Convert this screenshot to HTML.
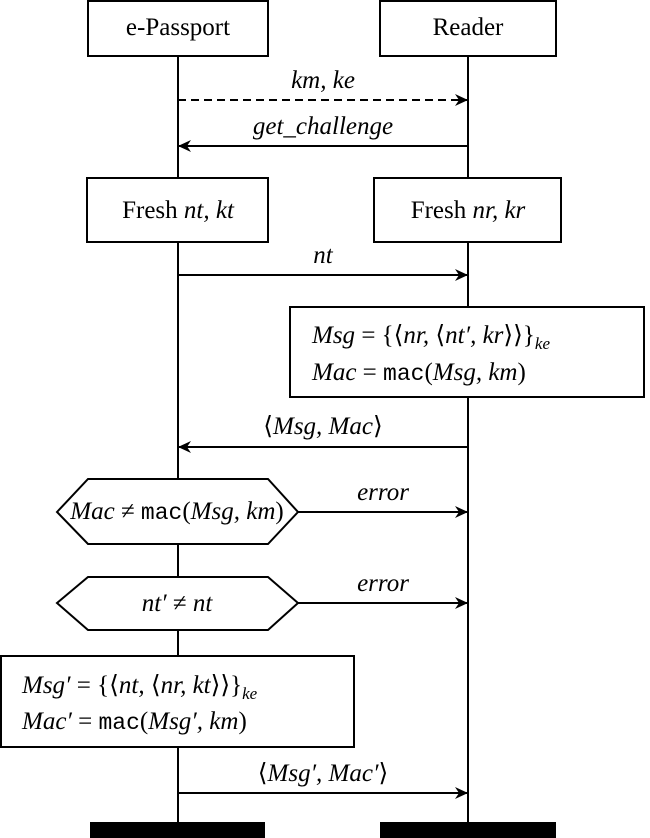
<!DOCTYPE html>
<html><head><style>
body{margin:0;background:#fff;}
svg{display:block;}
text{font-family:"Liberation Serif",serif;font-size:25px;fill:#000;}
.i{font-style:italic;}
.m{font-family:"Liberation Mono",monospace;font-style:normal;font-size:23px;}
</style></head><body>
<svg width="650" height="838" viewBox="0 0 650 838" xmlns="http://www.w3.org/2000/svg">
<defs><marker id="a" markerWidth="14" markerHeight="12" refX="13" refY="6" orient="auto" markerUnits="userSpaceOnUse"><path d="M0,0 L13,6 L0,12 L4,6 Z" fill="#000"/></marker></defs>
<g stroke="#000" stroke-width="2" fill="none">
<line x1="178" y1="56" x2="178" y2="822"/>
<line x1="468" y1="56" x2="468" y2="822"/>
</g>
<g stroke="#000" stroke-width="2" fill="#fff">
<rect x="88" y="1" width="180" height="55"/>
<rect x="380" y="1" width="176" height="55"/>
<rect x="87" y="178" width="181" height="64"/>
<rect x="374" y="178" width="187" height="64"/>
<rect x="290" y="307" width="354" height="90"/>
<polygon points="57,512 88,479 268,479 298,512 268,544 88,544"/>
<polygon points="57,603 88,577 268,577 298,603 268,630 88,630"/>
<rect x="1" y="656" width="353" height="91"/>
</g>
<g stroke="#000" stroke-width="2" fill="none">
<line x1="178" y1="100" x2="468" y2="100" stroke-dasharray="8,5" marker-end="url(#a)"/>
<line x1="468" y1="146" x2="178" y2="146" marker-end="url(#a)"/>
<line x1="178" y1="275" x2="468" y2="275" marker-end="url(#a)"/>
<line x1="468" y1="447" x2="178" y2="447" marker-end="url(#a)"/>
<line x1="298" y1="512" x2="468" y2="512" marker-end="url(#a)"/>
<line x1="298" y1="603" x2="468" y2="603" marker-end="url(#a)"/>
<line x1="178" y1="793" x2="468" y2="793" marker-end="url(#a)"/>
</g>
<rect x="90" y="822" width="175" height="16" fill="#000"/>
<rect x="380" y="822" width="176" height="16" fill="#000"/>
<text x="178" y="35" text-anchor="middle">e-Passport</text>
<text x="468" y="35" text-anchor="middle">Reader</text>
<text x="323" y="88" text-anchor="middle" class="i">km, ke</text>
<text x="323" y="134" text-anchor="middle" class="i">get_challenge</text>
<text x="178" y="218" text-anchor="middle">Fresh <tspan class="i">nt, kt</tspan></text>
<text x="468" y="218" text-anchor="middle">Fresh <tspan class="i">nr, kr</tspan></text>
<text x="323" y="263" text-anchor="middle" class="i">nt</text>
<text x="312" y="343" class="i" font-size="26">Msg <tspan font-style="normal">= {⟨</tspan>nr, <tspan font-style="normal">⟨</tspan>nt′, kr<tspan font-style="normal">⟩⟩}</tspan><tspan font-size="17" dy="6">ke</tspan></text>
<text x="312" y="380" class="i" font-size="26">Mac <tspan font-style="normal">= </tspan><tspan class="m" font-size="24">mac</tspan><tspan font-style="normal">(</tspan>Msg, km<tspan font-style="normal">)</tspan></text>
<text x="323" y="434" text-anchor="middle" class="i"><tspan font-style="normal">⟨</tspan>Msg, Mac<tspan font-style="normal">⟩</tspan></text>
<text x="383" y="500" text-anchor="middle" class="i">error</text>
<text x="383" y="591" text-anchor="middle" class="i">error</text>
<text x="177" y="519" text-anchor="middle" class="i" font-size="21">Mac <tspan font-style="normal">≠ </tspan><tspan class="m" font-size="20">mac</tspan><tspan font-style="normal">(</tspan>Msg, km<tspan font-style="normal">)</tspan></text>
<text x="177" y="611" text-anchor="middle" class="i" font-size="26">nt′ <tspan font-style="normal">≠</tspan> nt</text>
<text x="22" y="693" class="i" font-size="26">Msg′ <tspan font-style="normal">= {⟨</tspan>nt, <tspan font-style="normal">⟨</tspan>nr, kt<tspan font-style="normal">⟩⟩}</tspan><tspan font-size="17" dy="6">ke</tspan></text>
<text x="22" y="729" class="i" font-size="26">Mac′ <tspan font-style="normal">= </tspan><tspan class="m" font-size="24">mac</tspan><tspan font-style="normal">(</tspan>Msg′, km<tspan font-style="normal">)</tspan></text>
<text x="323" y="781" text-anchor="middle" class="i"><tspan font-style="normal">⟨</tspan>Msg′, Mac′<tspan font-style="normal">⟩</tspan></text>
</svg>
</body></html>
